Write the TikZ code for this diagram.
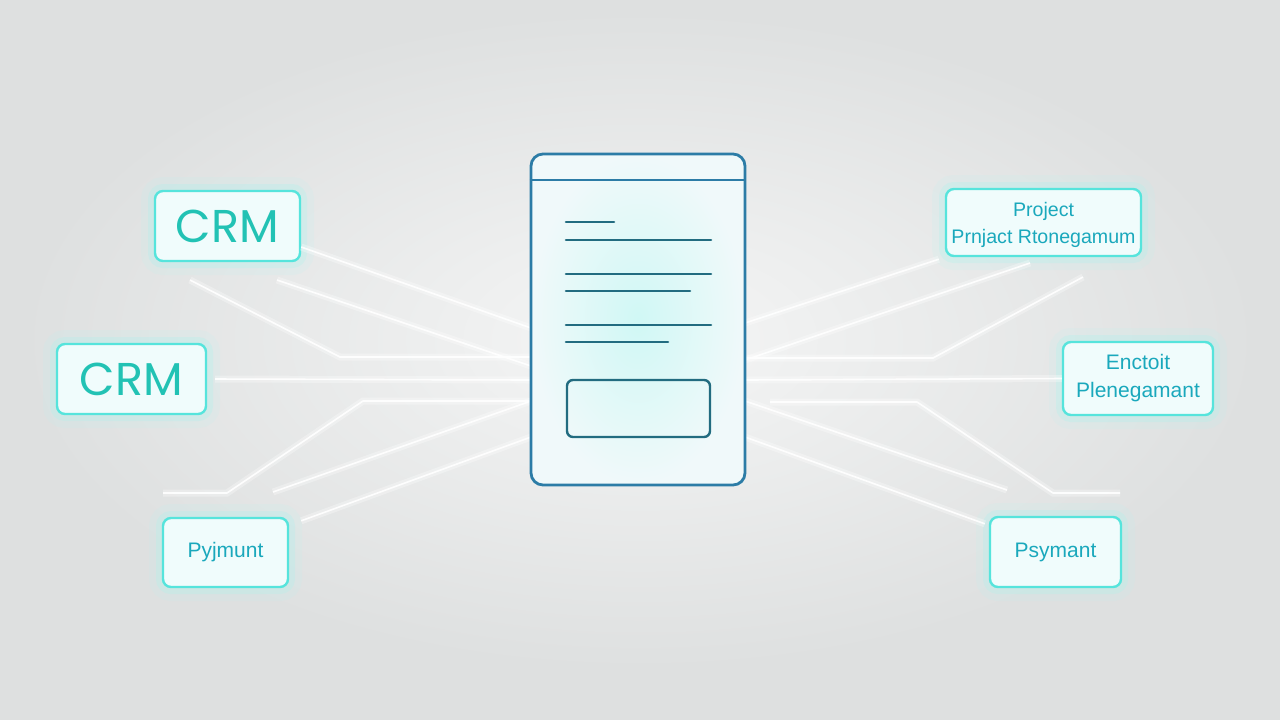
\documentclass[tikz,border=0pt]{standalone}
\usepackage{fontspec}
\setmainfont{Liberation Sans}
\newfontfamily\crmfont{Poppins}
\usepackage{xcolor}
\usetikzlibrary{positioning,calc}
\definecolor{bggray}{RGB}{222,224,224}
\definecolor{boxcyan}{RGB}{86,228,220}
\definecolor{boxfill}{RGB}{240,252,252}
\definecolor{crmteal}{RGB}{34,194,180}
\definecolor{labelteal}{RGB}{26,168,188}
\definecolor{docblue}{RGB}{44,124,166}
\definecolor{docline}{RGB}{34,108,128}

\tikzset{
  appbox/.style={draw=boxcyan, line width=1.2pt, fill=boxfill, rounded corners=4pt,
    preaction={draw=boxcyan!50!white, line width=7pt, opacity=0.28},
    preaction={draw=boxcyan!40!white, line width=14pt, opacity=0.14}},
  crmlabel/.style={font=\crmfont\fontsize{23}{26}\selectfont, text=crmteal},
  applabel/.style={font=\fontsize{10.5}{14}\selectfont, text=labelteal, align=center},
  glowline/.style={draw=white, line width=0.8pt, line join=round, opacity=0.9,
    preaction={draw=white, line width=3.5pt, opacity=0.3}},
  docline/.style={draw=docline, line width=1.3pt, line cap=round}
}

\begin{document}
\begin{tikzpicture}[x=0.5pt,y=-0.5pt]
  % Sfondo
  \useasboundingbox (0,0) rectangle (1280,720);
  \fill[bggray] (0,0) rectangle (1280,720);
  \shade[inner color=white!70!bggray, outer color=bggray] (640,340) ellipse (620 and 330);

  % Punti liberi dei collegamenti
  \coordinate (la) at (190,280);  \coordinate (lak) at (340,357);
  \coordinate (lb) at (277,280);
  \coordinate (lc) at (163,493);  \coordinate (lck) at (227,493); \coordinate (lckk) at (363,401);
  \coordinate (ld) at (273,492);
  \coordinate (ra) at (1030,263);
  \coordinate (rb) at (1083,277); \coordinate (rbk) at (933,358);
  \coordinate (rc) at (1120,493); \coordinate (rck) at (1053,493); \coordinate (rckk) at (917,402);
  \coordinate (rd) at (1007,490);
  % Punti sul documento
  \coordinate (dl1) at (531,328); \coordinate (dl2) at (531,357); \coordinate (dl3) at (531,366);
  \coordinate (dl4) at (531,380); \coordinate (dl5) at (531,401); \coordinate (dl6) at (531,437);
  \coordinate (dr1) at (745,323); \coordinate (dr2) at (745,358); \coordinate (dr3) at (745,360);
  \coordinate (dr4) at (745,380); \coordinate (dr5) at (770,402); \coordinate (dr6) at (745,401);
  \coordinate (dr7) at (745,437);

  % Riquadri
  \node[appbox, minimum width=72.5pt, minimum height=35pt] (crmA) at (227.5,226) {};
  \node[crmlabel] at (crmA) {CRM};
  \node[appbox, minimum width=74.5pt, minimum height=35pt] (crmB) at (131.5,379) {};
  \node[crmlabel] at (crmB) {CRM};
  \node[appbox, minimum width=62.5pt, minimum height=34.5pt] (payL) at (225.5,552.5) {};
  \node[applabel] at (payL) {Pyjmunt};
  \node[appbox, minimum width=97.5pt, minimum height=33.5pt] (proj) at (1043.5,222.5) {};
  \node[applabel, font=\fontsize{9.8}{13.5}\selectfont] at ([yshift=-1pt]proj) {Project\\Prnjact Rtonegamum};
  \node[appbox, minimum width=75pt, minimum height=36.5pt] (pm) at (1138,378.5) {};
  \node[applabel] at (pm) {Enctoit\\Plenegamant};
  \node[appbox, minimum width=65.5pt, minimum height=35pt] (payR) at (1055.5,552) {};
  \node[applabel] at (payR) {Psymant};

  % Collegamenti a sinistra
  \draw[glowline] ([yshift=-10.5pt]crmA.east) -- (dl1);
  \draw[glowline] (la) -- (lak) -- (dl2);
  \draw[glowline] (lb) -- (dl3);
  \draw[glowline] ([xshift=4pt]crmB.east) -- (dl4);
  \draw[glowline] (lc) -- (lck) -- (lckk) -- (dl5);
  \draw[glowline] (ld) -- (dl5);
  \draw[glowline] ([xshift=6pt,yshift=-2pt]payL.north east) -- (dl6);

  % Collegamenti a destra
  \draw[glowline] (dr1) -- ([xshift=-3pt,yshift=-1pt]proj.south west);
  \draw[glowline] (dr3) -- (ra);
  \draw[glowline] (dr2) -- (rbk) -- (rb);
  \draw[glowline] (dr4) -- (pm.west);
  \draw[glowline] (dr5) -- (rckk) -- (rck) -- (rc);
  \draw[glowline] (dr6) -- (rd);
  \draw[glowline] (dr7) -- ([xshift=-2pt,yshift=-4pt]payR.north west);

  % Documento centrale
  \node[draw=docblue, line width=1.4pt, rounded corners=6pt,
    inner color={rgb,255:red,208;green,248;blue,245}, outer color={rgb,255:red,240;green,249;blue,250},
    minimum width=107pt, minimum height=165.5pt] (doc) at (638,319.5) {};
  \draw[docblue, line width=1.4pt] (doc.west |- 0,180) -- (doc.east |- 0,180);
  \draw[docline] (566,222) -- (614,222);
  \draw[docline] (566,240) -- (711,240);
  \draw[docline] (566,274) -- (711,274);
  \draw[docline] (566,291) -- (690,291);
  \draw[docline] (566,325) -- (711,325);
  \draw[docline] (566,342) -- (668,342);
  \draw[docline, line width=1.2pt, rounded corners=3pt] (567,380) rectangle (710,437);
\end{tikzpicture}
\end{document}
